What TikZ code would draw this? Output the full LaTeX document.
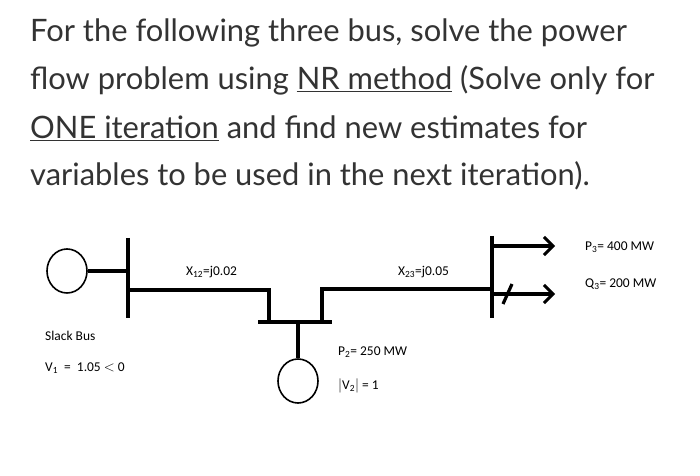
\documentclass[tikz,border=0pt]{standalone}
\usepackage{fontspec}
\setmainfont{Lato}
\newfontfamily\diagfont{Carlito}
\usetikzlibrary{arrows.meta,shapes.geometric}
\definecolor{txt}{HTML}{333333}
\begin{document}
\begin{tikzpicture}[x=1bp,y=-1bp,
  wire/.style={line width=3.2bp,black},
  gen/.style={draw,line width=1.6bp,ellipse,minimum width=40bp,minimum height=44bp,inner sep=0pt},
  lbl/.style={font=\diagfont\fontsize{13.5}{15}\selectfont,anchor=west,inner sep=0pt},
  par/.style={font=\fontsize{31}{34}\selectfont,anchor=west,inner sep=0pt,text=txt}]
\useasboundingbox (0,0) rectangle (700,476);
\node[par] (l1) at (30,33) {For the following three bus, solve the power};
\node[par] (l2) at (30,80) {flow problem using \underline{NR method} (Solve only for};
\node[par] (l3) at (30,128) {\underline{ONE iteration} and find new estimates for};
\node[par] (l4) at (30,176) {variables to be used in the next iteration).};
% generators
\node[gen] (g1) at (67,271) {};
\node[gen] (g2) at (298,381) {};
% buses
\coordinate (b1t) at (128,238); \coordinate (b1b) at (128,318);
\coordinate (b2l) at (258,322); \coordinate (b2r) at (332,322);
\coordinate (b3t) at (492,236); \coordinate (b3b) at (492,318);
\draw[wire] (b1t) -- (b1b);
\draw[wire] (b2l) -- (b2r);
\draw[wire] (b3t) -- (b3b);
\draw[wire] (g1.east) -- (128,271);
\draw[wire] (g2.north) -- (298,322);
\draw[wire] (128,290) -- (269,290) -- (269,322);
\draw[wire] (322,322) -- (322,289) -- (492,289);
\coordinate (a1) at (555,246); \coordinate (a2) at (555,294);
\draw[wire,-{Straight Barb[length=9bp,width=18bp,line width=3bp]}] (492,246) -- (a1);
\draw[wire,-{Straight Barb[length=9bp,width=18bp,line width=3bp]}] (492,294) -- (a2);
\draw[wire] (503,304) -- (512,284);
\node[lbl] (x12) at (186,272) {X\textsubscript{12}=j0.02};
\node[lbl] (x23) at (398,272) {X\textsubscript{23}=j0.05};
\node[lbl] (p3) at (585,247) {P\textsubscript{3}= 400 MW};
\node[lbl] (q3) at (585,284) {Q\textsubscript{3}= 200 MW};
\node[lbl] (sb) at (45,336) {Slack Bus};
\node[lbl] (v1) at (45,368) {V\textsubscript{1} \ = \ 1.05 $<$ 0};
\node[lbl] (p2) at (338,352) {P\textsubscript{2}= 250 MW};
\node[lbl] (v2) at (338,386) {$|$V\textsubscript{2}$|$ = 1};
\end{tikzpicture}
\end{document}
